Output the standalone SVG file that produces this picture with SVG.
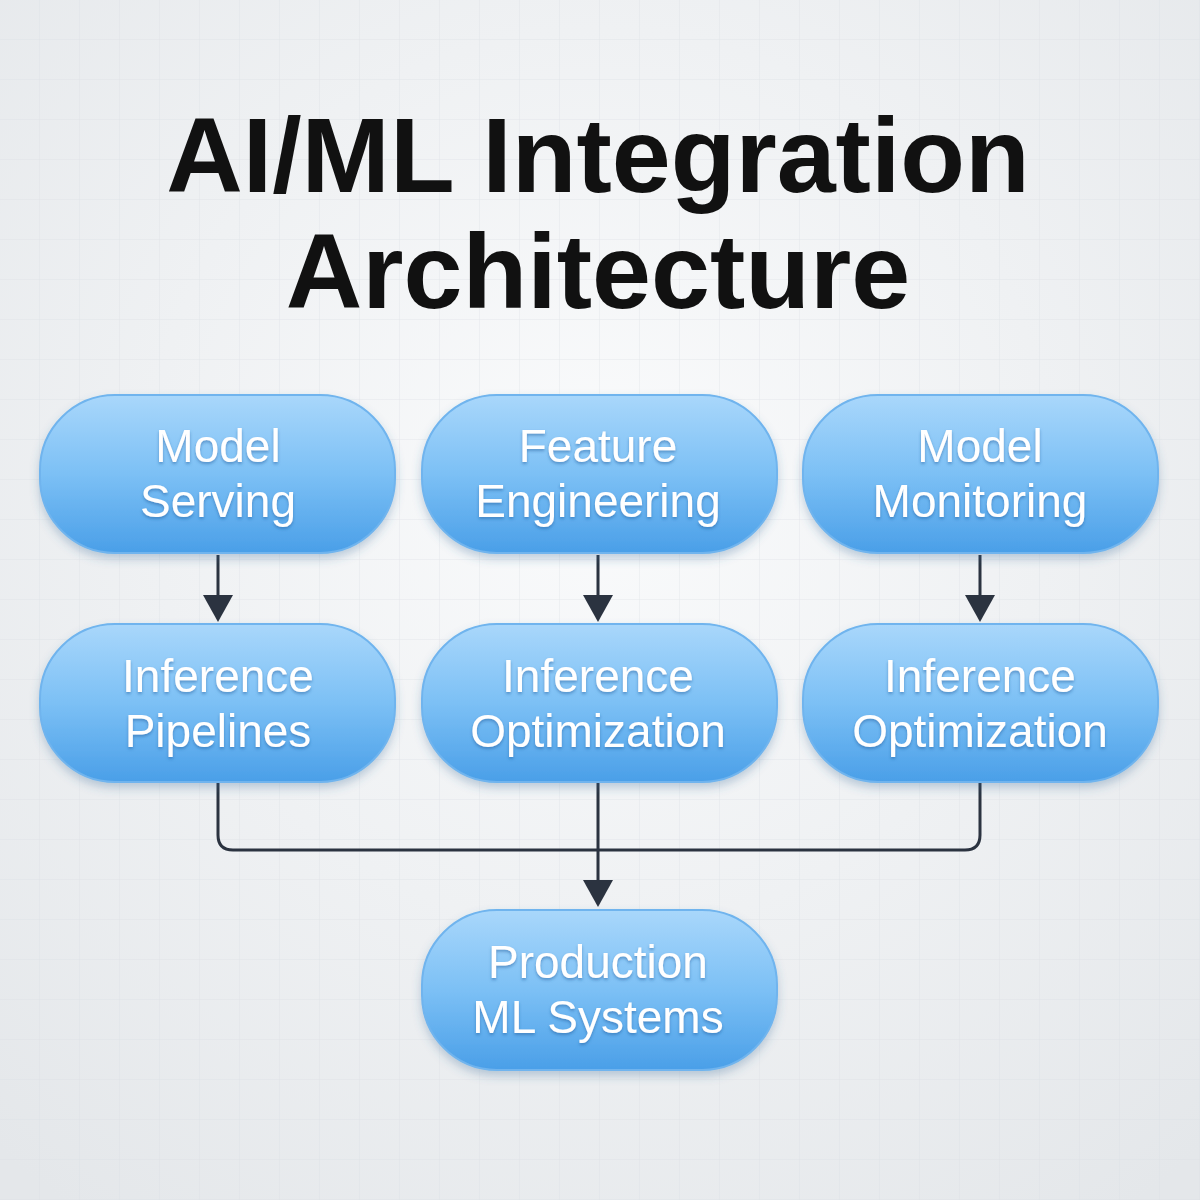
<svg xmlns="http://www.w3.org/2000/svg" width="1200" height="1200" viewBox="0 0 1200 1200">
<defs>
<radialGradient id="bg" cx="50%" cy="40%" r="75%"><stop offset="0" stop-color="#fafbfc"/><stop offset="1" stop-color="#e4e7ea"/></radialGradient>
<pattern id="grid" width="40" height="40" patternUnits="userSpaceOnUse"><path d="M40 0V40M0 40H40" fill="none" stroke="#d9dde2" stroke-width="1"/></pattern>
<linearGradient id="node" x1="0" y1="0" x2="0" y2="1"><stop offset="0" stop-color="#a9d7fb"/><stop offset="0.5" stop-color="#7cc0f5"/><stop offset="1" stop-color="#4a9fe8"/></linearGradient>
<filter id="sh" x="-10%" y="-10%" width="120%" height="130%"><feDropShadow dx="0" dy="5" stdDeviation="5" flood-color="#3a6a99" flood-opacity="0.3"/></filter>
<filter id="ts"><feDropShadow dx="0" dy="2" stdDeviation="1.5" flood-color="#1c5a99" flood-opacity="0.5"/></filter>
</defs>
<style>
.n{fill:url(#node);stroke:#6fb4ee;stroke-width:2;filter:url(#sh)}
.t{font-family:"Liberation Sans",Arial,sans-serif;font-size:46px;fill:#fff;text-anchor:middle;filter:url(#ts)}
.c{fill:none;stroke:#2b3340;stroke-width:3}
.a{fill:#2b3340}
.h{font-family:"Liberation Sans",Arial,sans-serif;font-weight:bold;font-size:106px;fill:#111;text-anchor:middle}
</style>
<rect width="1200" height="1200" fill="url(#bg)"/>
<rect width="1200" height="1200" fill="url(#grid)" opacity="0.6"/>
<text class="h" x="598" y="192">AI/ML Integration</text>
<text class="h" x="598" y="308">Architecture</text>
<g id="connectors">
<path class="c" d="M218 555V600"/>
<path class="c" d="M598 555V600"/>
<path class="c" d="M980 555V600"/>
<path class="c" d="M218 783V835Q218 850 233 850H965Q980 850 980 835V783"/>
<path class="c" d="M598 783V885"/>
<path class="a" d="M203 595L218 622L233 595Z"/>
<path class="a" d="M583 595L598 622L613 595Z"/>
<path class="a" d="M965 595L980 622L995 595Z"/>
<path class="a" d="M583 880L598 907L613 880Z"/>
</g>
<g id="n1"><rect class="n" x="40" y="395" width="355" height="158" rx="75"/><text class="t" x="218" y="462">Model</text><text class="t" x="218" y="517">Serving</text></g>
<g id="n2"><rect class="n" x="422" y="395" width="355" height="158" rx="75"/><text class="t" x="598" y="462">Feature</text><text class="t" x="598" y="517">Engineering</text></g>
<g id="n3"><rect class="n" x="803" y="395" width="355" height="158" rx="75"/><text class="t" x="980" y="462">Model</text><text class="t" x="980" y="517">Monitoring</text></g>
<g id="n4"><rect class="n" x="40" y="624" width="355" height="158" rx="75"/><text class="t" x="218" y="692">Inference</text><text class="t" x="218" y="747">Pipelines</text></g>
<g id="n5"><rect class="n" x="422" y="624" width="355" height="158" rx="75"/><text class="t" x="598" y="692">Inference</text><text class="t" x="598" y="747">Optimization</text></g>
<g id="n6"><rect class="n" x="803" y="624" width="355" height="158" rx="75"/><text class="t" x="980" y="692">Inference</text><text class="t" x="980" y="747">Optimization</text></g>
<g id="n7"><rect class="n" x="422" y="910" width="355" height="160" rx="75"/><text class="t" x="598" y="978">Production</text><text class="t" x="598" y="1033">ML Systems</text></g>
</svg>
